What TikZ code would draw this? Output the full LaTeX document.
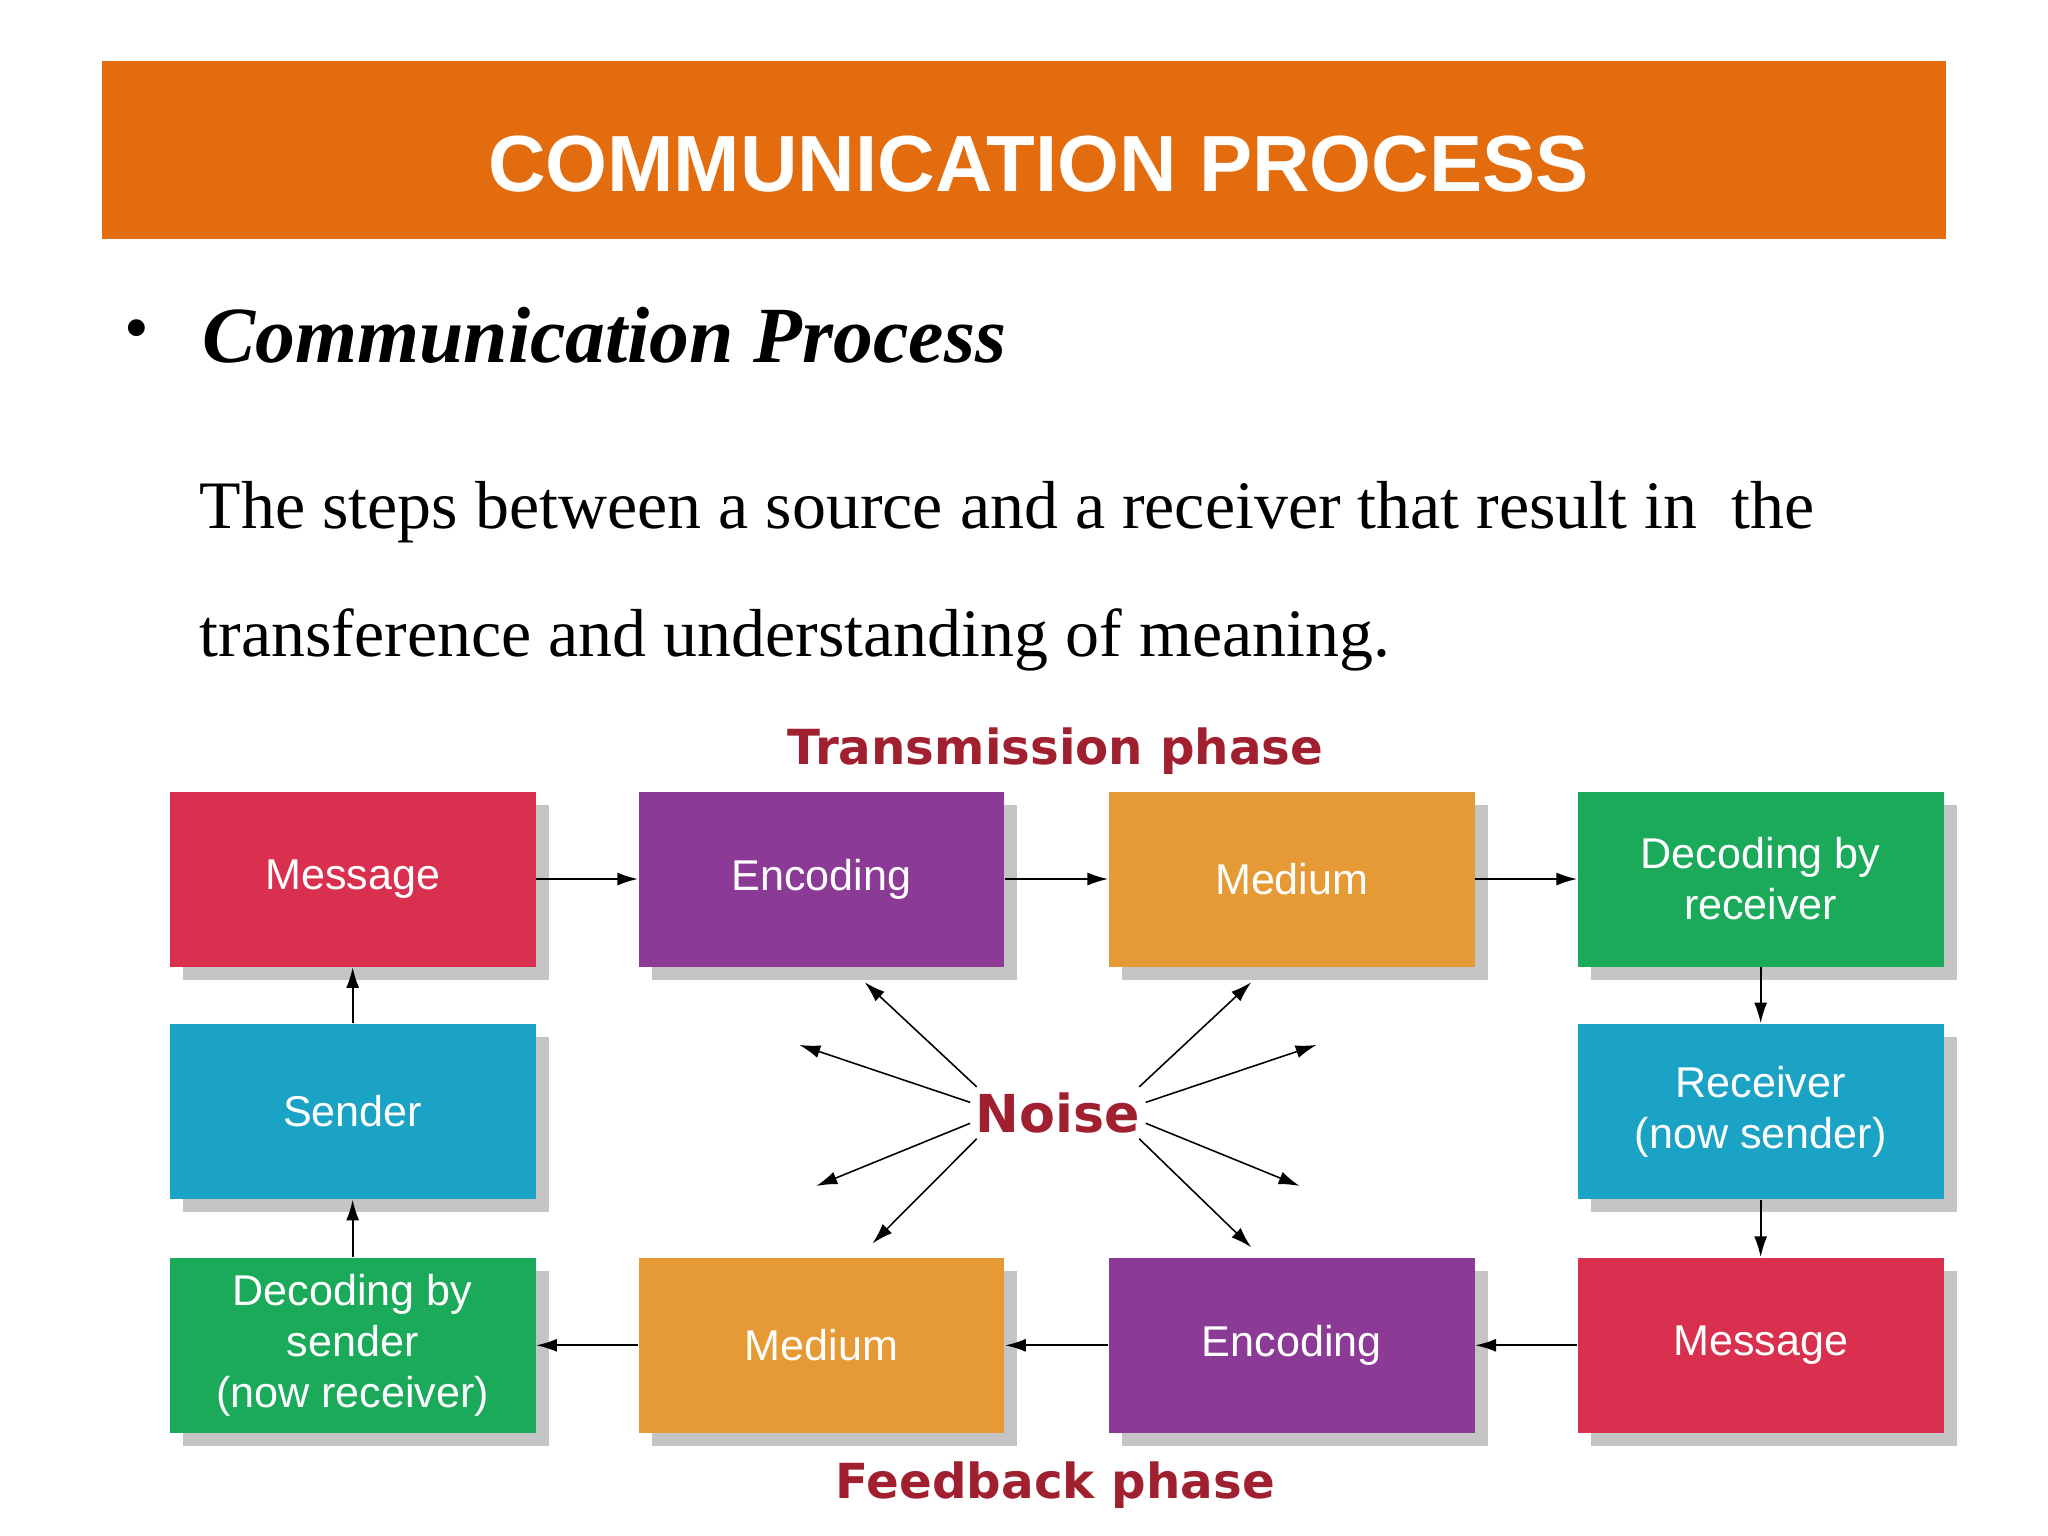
\documentclass[tikz,border=0pt]{standalone}
\usepackage{fontspec}
\setmainfont{Liberation Serif}
\setsansfont{Liberation Sans}
\newfontfamily\heavy{DejaVu Sans}
\usetikzlibrary{arrows.meta,shadows}
\definecolor{bar}{HTML}{E36C0E}
\definecolor{cred}{HTML}{D9304F}
\definecolor{cpur}{HTML}{8B3A96}
\definecolor{corg}{HTML}{E69A35}
\definecolor{cgrn}{HTML}{1BAA5A}
\definecolor{cblu}{HTML}{1BA3C6}
\definecolor{phase}{HTML}{A0202F}
\tikzset{
 bx/.style={minimum width=140pt,minimum height=67pt,inner sep=0pt,text=white,align=center,
   font=\sffamily\fontsize{16.5}{19.5}\selectfont,
   drop shadow={shadow xshift=5pt,shadow yshift=-5pt,fill=black!45,opacity=0.5}},
 ar/.style={-{Latex[length=8pt,width=5pt]},line width=0.8pt},
 nz/.style={-{Latex[length=8pt,width=5pt]},line width=0.6pt},
 ph/.style={font=\heavy\bfseries\fontsize{18.5}{22}\selectfont,text=phase}
}
\begin{document}
\begin{tikzpicture}[x=0.5pt,y=-0.5pt]
\useasboundingbox (0,0) rectangle (1568,1176);
\fill[white] (0,0) rectangle (1568,1176);
\fill[bar] (78,47) rectangle (1490,183);
\node (title) at (795,126) {\sffamily\bfseries\fontsize{30.5}{35}\selectfont\color{white}COMMUNICATION PROCESS};
\node[anchor=west] (bul) at (88,257) {\fontsize{27}{30}\selectfont\textbullet};
\node[anchor=west] (head) at (148,257) {\fontsize{30.5}{35}\selectfont\bfseries\itshape Communication Process};
\node[anchor=west] (l1) at (146,392) {\fontsize{26}{30}\selectfont The steps between a source and a receiver that result in\ \ the};
\node[anchor=west] (l2) at (146,490) {\fontsize{26}{30}\selectfont transference and understanding of meaning.};
\node[ph] (tp) at (808,575) {Transmission phase};
\node[ph] (fp) at (808,1137) {Feedback phase};
% row 1
\node[bx,fill=cred] (m1) at (270,673) {Message};
\node[bx,fill=cpur] (e1) at (629,673) {Encoding};
\node[bx,fill=corg] (d1) at (989,673) {Medium};
\node[bx,fill=cgrn] (r1) at (1348,673) {Decoding by\\receiver};
% row 2
\node[bx,fill=cblu] (snd) at (270,851) {Sender};
\node[bx,fill=cblu] (rcv) at (1348,851) {Receiver\\(now sender)};
% row 3
\node[bx,fill=cgrn] (ds) at (270,1030) {Decoding by\\sender\\(now receiver)};
\node[bx,fill=corg] (d2) at (629,1030) {Medium};
\node[bx,fill=cpur] (e2) at (989,1030) {Encoding};
\node[bx,fill=cred] (m2) at (1348,1030) {Message};
\draw[ar] (m1) -- (e1);
\draw[ar] (e1) -- (d1);
\draw[ar] (d1) -- (r1);
\draw[ar] (r1) -- (rcv);
\draw[ar] (rcv) -- (m2);
\draw[ar] (m2) -- (e2);
\draw[ar] (e2) -- (d2);
\draw[ar] (d2) -- (ds);
\draw[ar] (ds) -- (snd);
\draw[ar] (snd) -- (m1);
\node[ph,font=\heavy\bfseries\fontsize{20}{24}\selectfont,inner sep=2pt] (noise) at (810,852) {Noise};
\coordinate (n1) at (662,752); \coordinate (n2) at (612,800);
\coordinate (n3) at (625,908); \coordinate (n4) at (668,952);
\coordinate (n5) at (958,752); \coordinate (n6) at (1008,800);
\coordinate (n7) at (995,908); \coordinate (n8) at (958,955);
\draw[nz] (noise.north west) ++(5,0) -- (n1);
\draw[nz] (noise.west) ++(0,-8) -- (n2);
\draw[nz] (noise.west) ++(0,8) -- (n3);
\draw[nz] (noise.south west) ++(5,0) -- (n4);
\draw[nz] (noise.north east) ++(-5,0) -- (n5);
\draw[nz] (noise.east) ++(0,-8) -- (n6);
\draw[nz] (noise.east) ++(0,8) -- (n7);
\draw[nz] (noise.south east) ++(-5,0) -- (n8);
\end{tikzpicture}
\end{document}
